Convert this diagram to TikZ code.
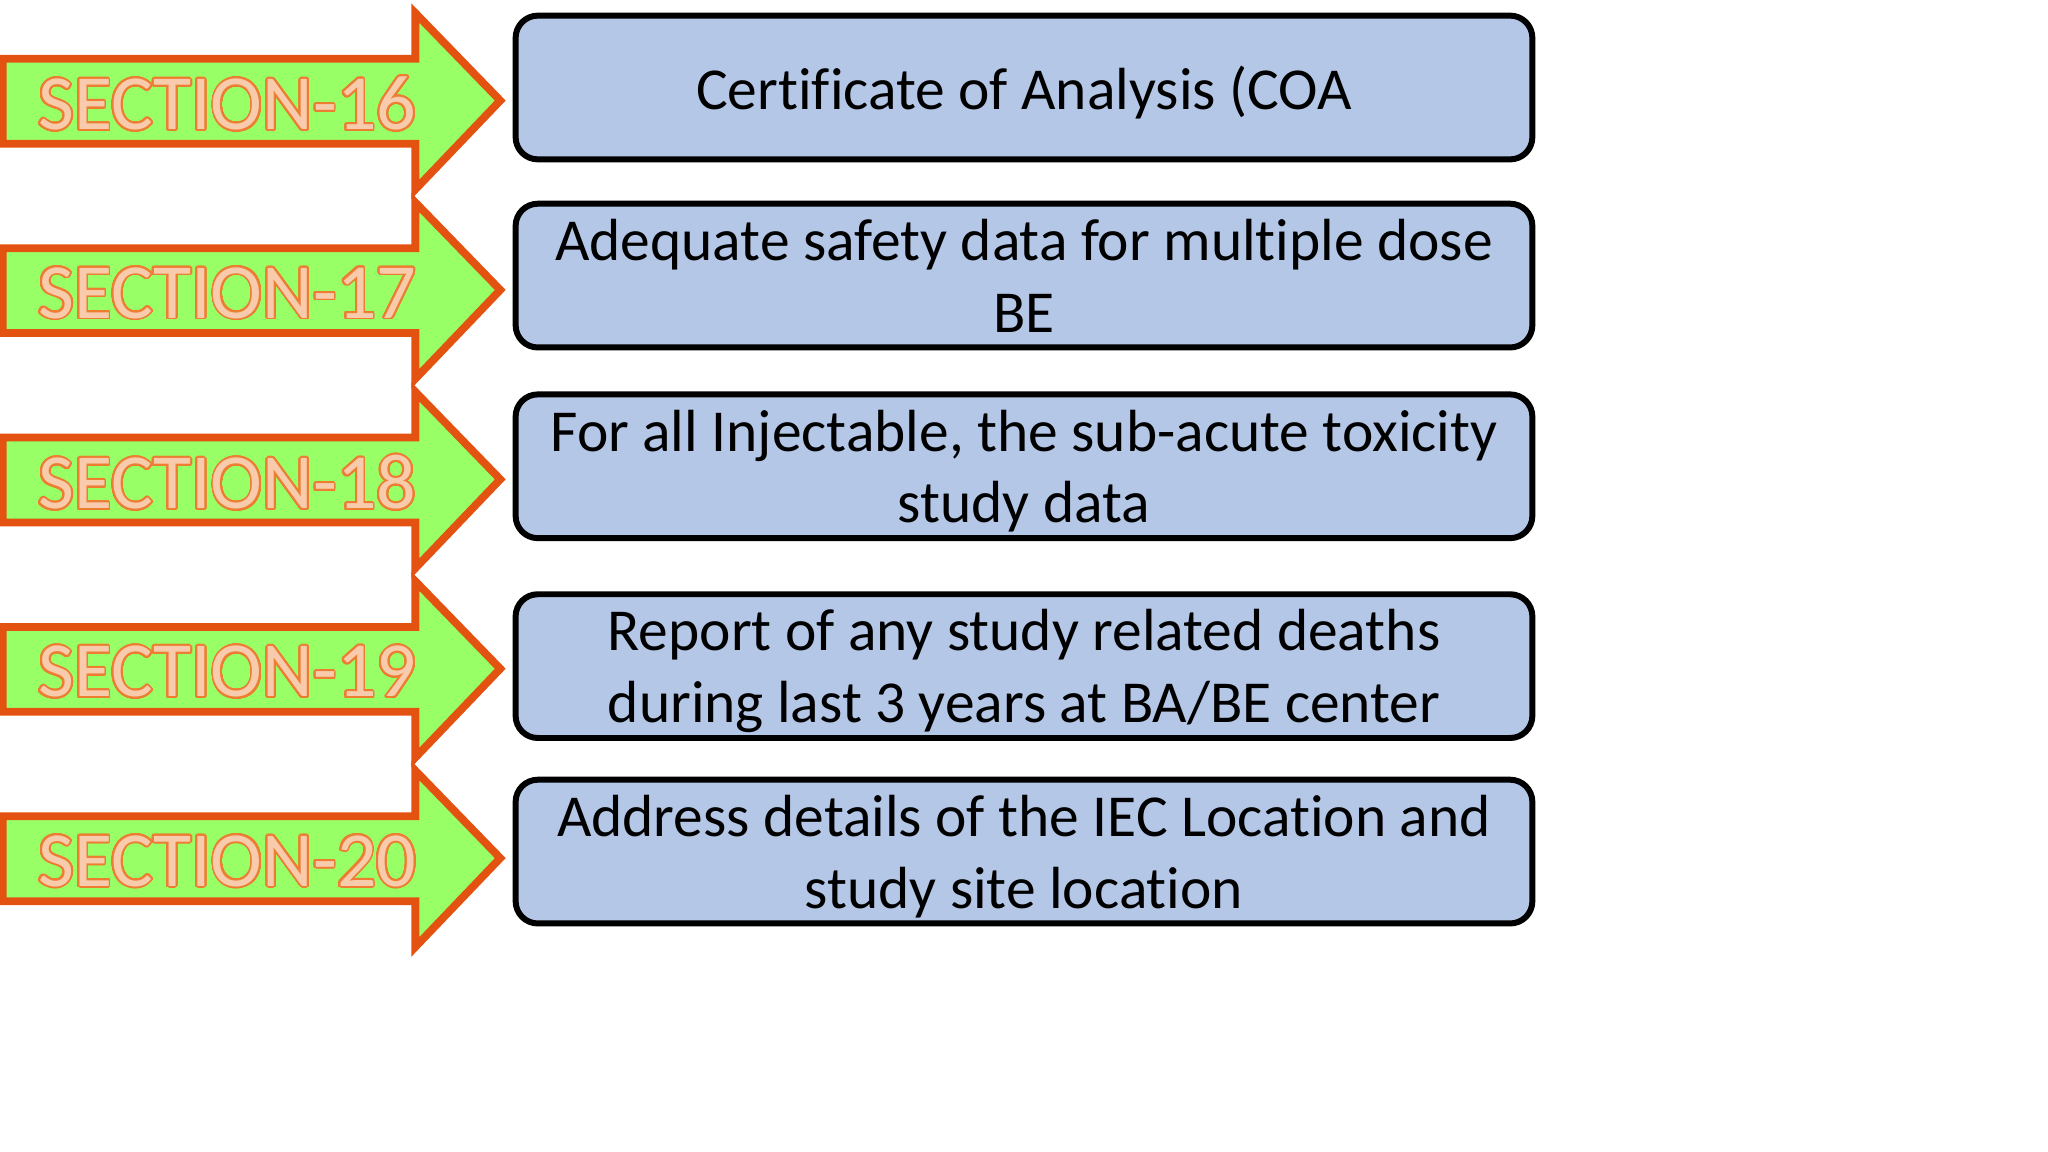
\documentclass[tikz,border=0pt]{standalone}
\usepackage{fontspec}
\setmainfont{Carlito}[Ligatures=NoCommon]
\usepackage[copies]{contour}
\contourlength{0.4pt}
\contournumber{32}
\definecolor{boxfill}{RGB}{180,199,231}
\definecolor{arrfill}{RGB}{153,255,102}
\definecolor{arrline}{RGB}{228,82,18}
\definecolor{secfill}{RGB}{248,203,173}
\definecolor{secline}{RGB}{237,125,49}
\tikzset{
  arrowshape/.style={draw=arrline, fill=arrfill, line width=1.7pt, line join=miter},
  sectext/.style={inner sep=0pt, font=\fontsize{17}{20}\selectfont},
  infobox/.style={draw=black, fill=boxfill, line width=1.3pt, rounded corners=0.17cm,
    minimum width=7.78cm, minimum height=1.10cm, align=center, inner sep=0pt,
    text depth=0pt, font=\fontsize{12.95}{15.6}\selectfont}
}
\newcommand\secarrow[2]{%
  \draw[arrowshape] (2,#1-32) -- (318,#1-32) -- (318,#1-67) -- (383,#1) -- (318,#1+68) -- (318,#1+33) -- (2,#1+33) -- cycle;
  \node[sectext] (s#2) at (174,#1+3) {\contour{secline}{\textcolor{secfill}{SECTION-#2}}};%
}
\begin{document}
\begin{tikzpicture}[x=0.01cm,y=-0.01cm]
\useasboundingbox (0,0) rectangle (1568,882);
\secarrow{77}{16}
\secarrow{222}{17}
\secarrow{367}{18}
\secarrow{512}{19}
\secarrow{657}{20}
\node[infobox] (b16) at (784,67) {Certificate of Analysis (COA};
\node[infobox] (b17) at (784,211) {Adequate safety data for multiple dose\\BE};
\node[infobox] (b18) at (784,357) {For all Injectable, the sub-acute toxicity\\study data};
\node[infobox] (b19) at (784,510) {Report of any study related deaths\\during last 3 years at BA/BE center};
\node[infobox] (b20) at (784,652) {Address details of the IEC Location and\\study site location};
\end{tikzpicture}
\end{document}
